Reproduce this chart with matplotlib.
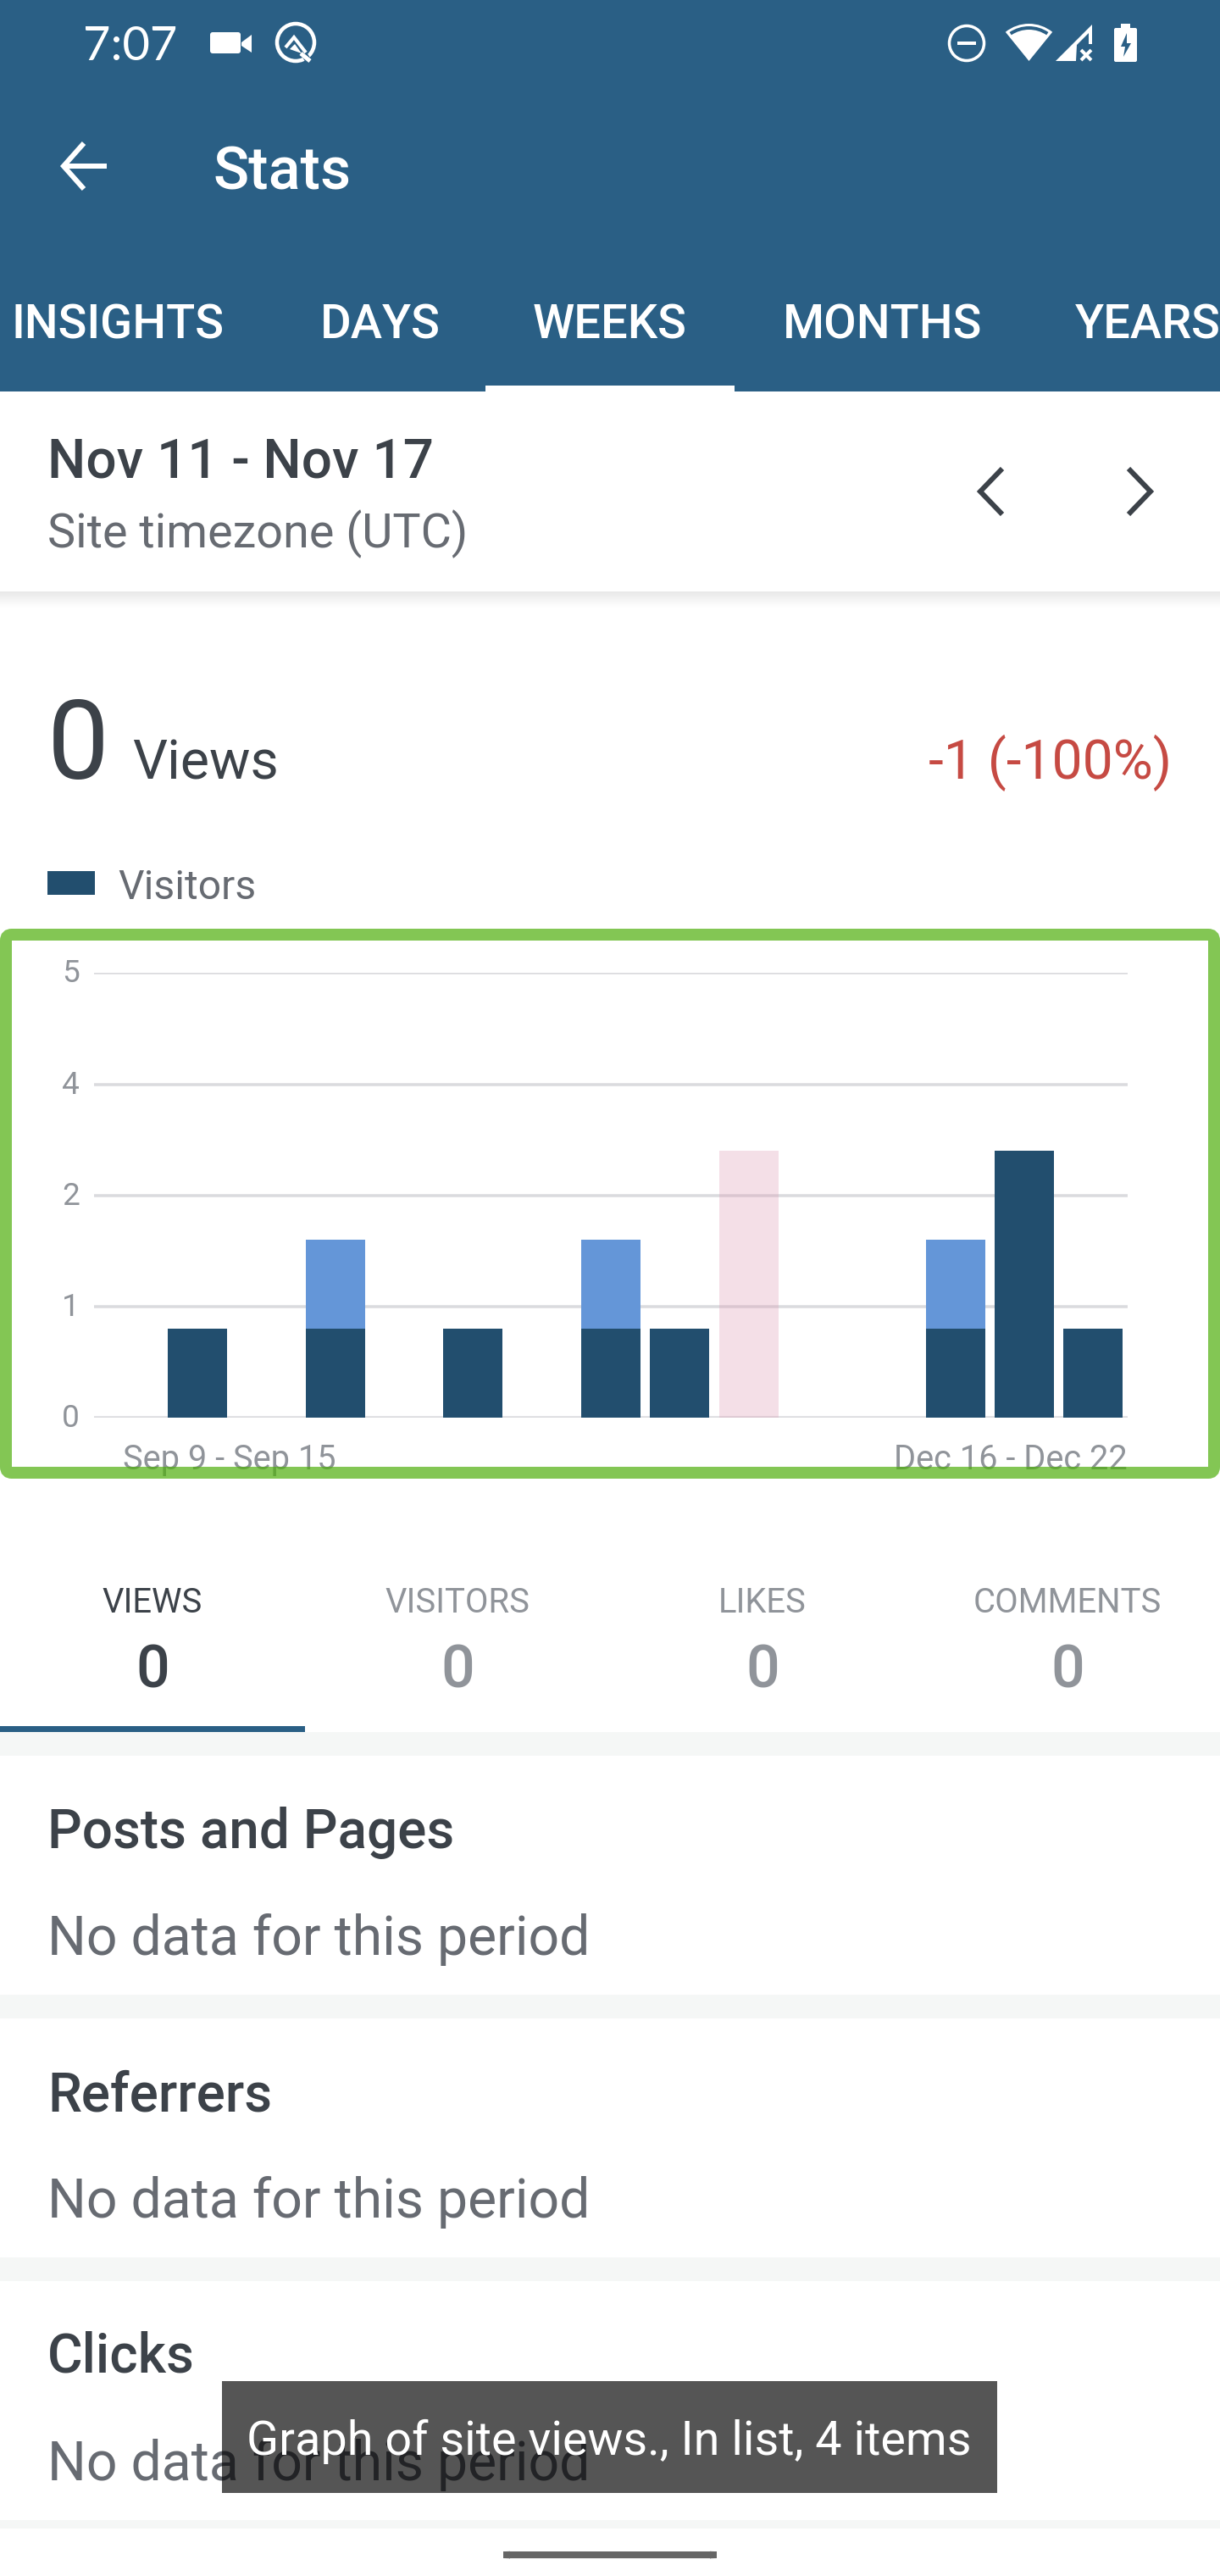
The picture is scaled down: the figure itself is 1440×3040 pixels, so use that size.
import matplotlib
matplotlib.use('Agg')
import matplotlib.pyplot as plt
import numpy as np
from matplotlib.patches import Rectangle, Circle, Wedge, Polygon, FancyBboxPatch
from matplotlib.transforms import ScaledTranslation

plt.rcParams['font.family'] = ['Roboto', 'DejaVu Sans']

# Chart data, bar heights are in axis units (the y ticks are evenly spaced)
y_tick_labels = ['0', '1', '2', '4', '5']
first_week = 'Sep 9 - Sep 15'
last_week = 'Dec 16 - Dec 22'
views_bars = [0, 0, 0, 1.6, 0, 0, 0, 1.6, 0, 0, 0, 0, 1.6, 0, 0]
visitors_bars = [0, 0.8, 0, 0.8, 0, 0.8, 0, 0.8, 0.8, 0, 0, 0, 0.8, 2.4, 0.8]
selected_bar = [0, 0, 0, 0, 0, 0, 0, 0, 0, 2.4, 0, 0, 0, 0, 0]

# Screen text
tab_names = ['INSIGHTS', 'DAYS', 'WEEKS', 'MONTHS', 'YEARS']
tab_left = [14, 378, 629, 924, 1269]
stat_names = ['VIEWS', 'VISITORS', 'LIKES', 'COMMENTS']
stat_values = ['0', '0', '0', '0']
stat_centers = [180, 540, 900, 1260]
section_names = ['Posts and Pages', 'Referrers', 'Clicks']
section_title_y = [2181, 2491, 2800]
section_empty_y = [2307, 2617, 2927]
band_top = [2044, 2354, 2664, 2974]
band_bottom = [2072, 2382, 2692, 2984]

HEADER = '#2a5f85'
DARK = '#3c4249'
MID = '#676b72'
LIGHT = '#90949a'
NAVY = '#224e6e'
BLUE = '#6496d8'
W, H = 1440, 3040


def px(size):
    return size * 0.72


fig = plt.figure(figsize=(14.4, 30.4), dpi=100, facecolor='white')


def pixel_axes(zorder):
    a = fig.add_axes([0, 0, 1, 1], zorder=zorder)
    a.set_xlim(0, W)
    a.set_ylim(H, 0)
    a.axis('off')
    return a


ui = pixel_axes(0)
top = pixel_axes(2)


def label(a, x, y, text, size, color, weight='normal', ha='left', zorder=5):
    a.text(x, y, text, fontsize=px(size), color=color, fontweight=weight,
           ha=ha, va='baseline', zorder=zorder)


def box(a, x0, y0, x1, y1, color, zorder=1, alpha=None):
    a.add_patch(Rectangle((x0, y0), x1 - x0, y1 - y0, facecolor=color,
                          edgecolor='none', zorder=zorder, alpha=alpha))


def stroke(a, xs, ys, color='white', width=6):
    a.plot(xs, ys, color=color, lw=px(width), solid_capstyle='butt',
           solid_joinstyle='miter', zorder=6)


# Header block
box(ui, 0, 0, W, 462, HEADER)
box(ui, 573, 455, 867, 462, 'white', zorder=2)
ui.text(98, 71, '7:07', fontsize=px(56), color='white', family='Lato', ha='left', va='baseline', zorder=5)
label(ui, 252, 223, 'Stats', 70, 'white', weight='medium')
for name, x in zip(tab_names, tab_left):
    label(ui, x, 399, name, 56, 'white', weight='medium')

# Status bar icons, left side
ui.add_patch(FancyBboxPatch((250, 40), 32, 21, boxstyle='round,pad=2,rounding_size=3',
                            fc='white', ec='none', zorder=5))
ui.add_patch(Polygon([(285, 50), (297, 41), (297, 62), (285, 54)], fc='white', ec='none', zorder=5))
ui.add_patch(Circle((349, 50), 22, fc='none', ec='white', lw=px(4.5), zorder=5))
ui.add_patch(Polygon([(356, 66), (362, 62), (368, 71), (361, 74)], fc=HEADER, ec='none', zorder=6))
stroke(ui, [355, 366], [63, 72], width=5)
stroke(ui, [337, 347, 361], [56, 44, 62], width=4)
ui.add_patch(Polygon([(342, 58), (348, 52), (356, 63)], fc='white', ec='none', zorder=6))

# Status bar icons, right side
ui.add_patch(Circle((1141, 51), 20.5, fc='none', ec='white', lw=px(3.5), zorder=5))
box(ui, 1130, 49, 1152, 53, 'white', zorder=5)
ui.add_patch(Wedge((1214.5, 72), 44, 231, 309, fc='white', ec='none', zorder=5))
ui.add_patch(Wedge((1214.5, 72), 41, 236, 304, width=4, fc=HEADER, ec='none', zorder=6))
ui.add_patch(Polygon([(1246, 72), (1289, 29), (1289, 52), (1285, 52), (1285, 39), (1271, 53), (1270, 72)],
                     fc='white', ec='none', zorder=5))
stroke(ui, [1276, 1288], [59, 71], width=4)
stroke(ui, [1276, 1288], [71, 59], width=4)
ui.add_patch(FancyBboxPatch((1316, 34), 25, 38, boxstyle='round,pad=1,rounding_size=2',
                            fc='white', ec='none', zorder=5))
box(ui, 1323, 28, 1334, 34, 'white', zorder=5)
ui.add_patch(Polygon([(1330, 39), (1323, 55), (1328, 55), (1326, 67), (1335, 51), (1330, 51)],
                     fc=HEADER, ec='none', zorder=6))

# Back arrow
stroke(ui, [99, 75, 99], [169, 196, 223], width=6)
stroke(ui, [77, 126], [196, 196], width=6)

# Date card
label(ui, 56, 564, 'Nov 11 - Nov 17', 63.8, DARK, weight='medium')
label(ui, 56, 646, 'Site timezone (UTC)', 55.8, MID)
stroke(ui, [1183, 1157, 1183], [553, 580, 607], color=DARK)
stroke(ui, [1332, 1358, 1332], [553, 580, 607], color=DARK)

# Card shadow
shade = np.linspace(0.9, 1.0, 20).reshape(-1, 1) ** 0.9
ui.imshow(shade, extent=(0, W, 717, 698), cmap='gray', vmin=0, vmax=1, aspect='auto',
          interpolation='bilinear', zorder=1)
ui.set_xlim(0, W)
ui.set_ylim(H, 0)

# Period summary
label(ui, 56, 919, '0', 130, DARK)
label(ui, 156, 919, 'Views', 64.5, DARK)
label(ui, 1383, 919, '-1 (-100%)', 64.2, '#c64a43', ha='right')
box(ui, 56, 1028, 112, 1056, NAVY)
label(ui, 139, 1061, 'Visitors', 48, MID)

# Bar chart
ax = fig.add_axes([111 / W, 1 - 1673.3 / H, 1220 / W, 525 / H], zorder=1)
ax.patch.set_alpha(0)
weeks = np.arange(len(visitors_bars))
ax.bar(weeks, views_bars, width=0.86, color=BLUE, zorder=2)
ax.bar(weeks, visitors_bars, width=0.86, color=NAVY, zorder=3)
ax.bar(weeks, selected_bar, width=0.86, color='#dd98b2', alpha=0.3, zorder=4)
ax.set_xlim(-0.5, 14.5)
ax.set_ylim(0, 4)
ax.set_yticks(range(len(y_tick_labels)))
ax.set_yticklabels(y_tick_labels)
ax.set_xticks([0, 14])
ax.set_xticklabels([first_week, last_week])
ax.grid(axis='y', color='#dadbde', linewidth=px(3.5), zorder=1)
ax.set_axisbelow(True)
ax.tick_params(axis='x', length=0, labelsize=px(39.8), labelcolor=LIGHT, pad=px(30))
ax.tick_params(axis='y', length=0, labelsize=px(37), labelcolor=LIGHT, pad=px(17))
for s in ax.spines.values():
    s.set_visible(False)
# week labels are pushed to the plot edges, y labels sit a touch above their lines
xlabels = ax.get_xticklabels()
xlabels[0].set_ha('left')
xlabels[1].set_ha('right')
xlabels[0].set_transform(xlabels[0].get_transform() + ScaledTranslation(-7 / 100, 0, fig.dpi_scale_trans))
xlabels[1].set_transform(xlabels[1].get_transform() + ScaledTranslation(40 / 100, 0, fig.dpi_scale_trans))
for t in ax.get_yticklabels():
    t.set_transform(t.get_transform() + ScaledTranslation(0, 3 / 100, fig.dpi_scale_trans))
for t in ax.get_xticklabels() + ax.get_yticklabels():
    t.set_clip_on(False)

# Focus border, see-through so the week labels show under it
top.add_patch(FancyBboxPatch((7, 1103), 1426, 635, boxstyle='round,pad=0,rounding_size=7',
                             fc='none', ec='#4eaf0c', lw=px(14), alpha=0.7, zorder=3, clip_on=False))

# Stat tabs
for i, (name, value, x) in enumerate(zip(stat_names, stat_values, stat_centers)):
    color = DARK if i == 0 else LIGHT
    label(ui, x, 1903, name, 40, color, ha='center')
    label(ui, x, 1991, value, 70, color, weight='medium', ha='center')
box(ui, 0, 2037, 360, 2044, HEADER, zorder=2)

# Grey bands and the empty sections
for y0, y1 in zip(band_top, band_bottom):
    box(ui, 0, y0, W, y1, '#f5f7f6')
for name, y_title, y_empty in zip(section_names, section_title_y, section_empty_y):
    label(ui, 56, y_title, name, 63.8, DARK, weight='medium')
    label(ui, 56, y_empty, 'No data for this period', 64.4, MID)

# Toast and nav pill
box(top, 262, 2810, 1177, 2942, 'black', zorder=5, alpha=0.667)
label(top, 291, 2897, 'Graph of site views., In list, 4 items', 55.8, 'white', zorder=6)
ui.add_patch(FancyBboxPatch((598, 3015), 244, 0.1, boxstyle='round,pad=0,rounding_size=4',
                            fc='#666666', ec='#666666', lw=px(8), zorder=5))

fig.savefig('out.png', dpi=100, facecolor='white')
